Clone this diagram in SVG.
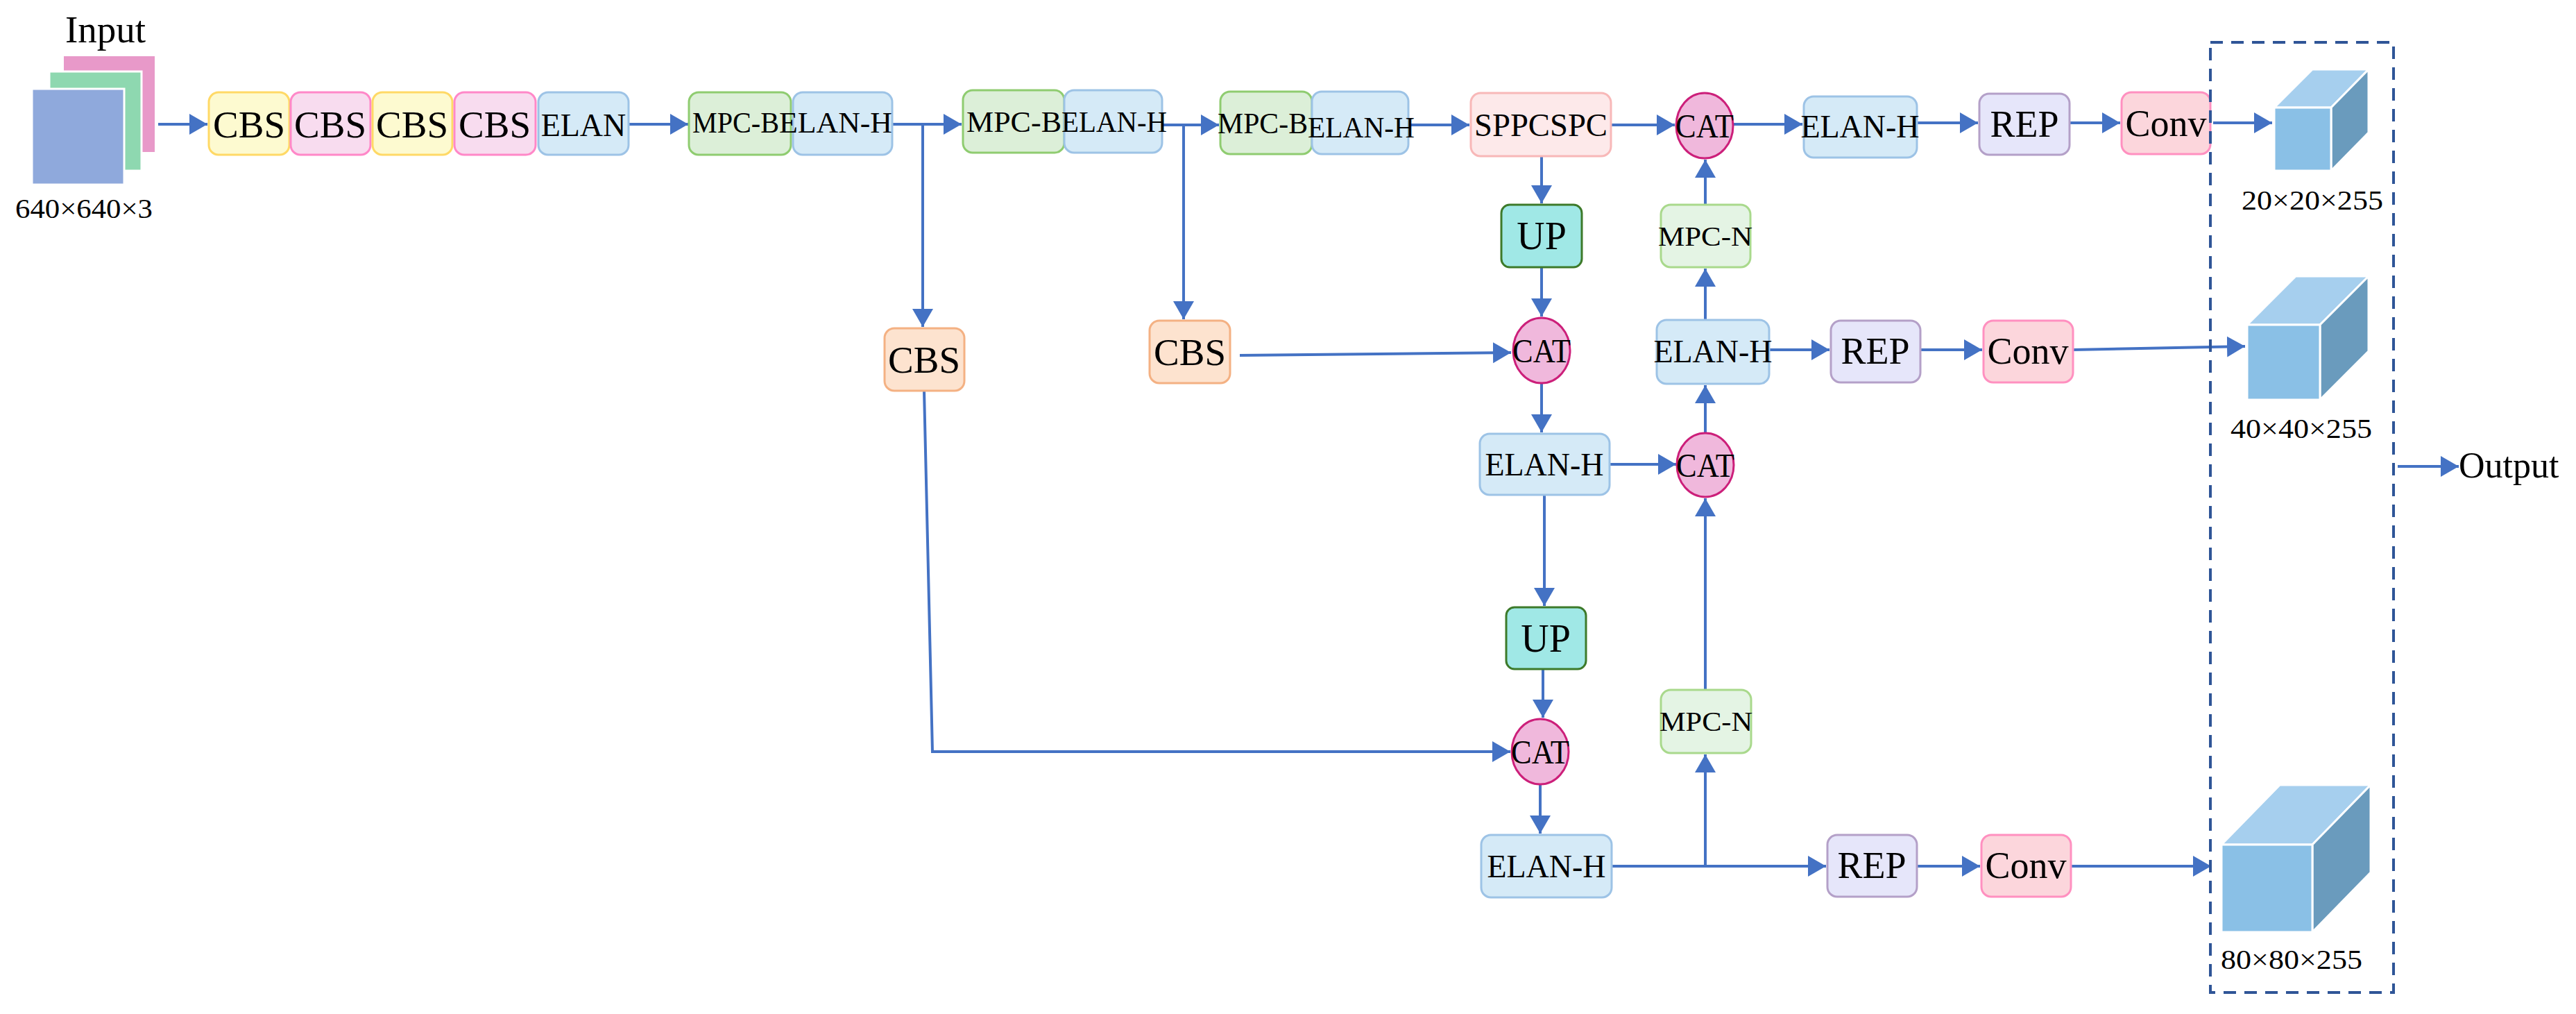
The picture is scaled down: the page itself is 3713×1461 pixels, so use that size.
<svg xmlns="http://www.w3.org/2000/svg" width="3713" height="1461" viewBox="0 0 3713 1461">
<style>
text{font-family:"Liberation Serif","Times New Roman",serif;fill:#000}
.c{text-anchor:middle}
.ln{fill:none;stroke:#4472c4;stroke-width:4}
.a{marker-end:url(#ah)}
.b{stroke-width:3}
.cbsy{fill:#fdfad0;stroke:#ffd966}
.cbsp{fill:#f8dcef;stroke:#ff88c8}
.elan{fill:#d5eaf7;stroke:#9dc3e6}
.mpcb{fill:#dcefd8;stroke:#8fcc70}
.cbso{fill:#fde3cf;stroke:#f4b183}
.spp{fill:#fde9ea;stroke:#f8b8b8}
.cat{fill:#f0b8dc;stroke:#cc1f7a}
.up{fill:#a0e8e6;stroke:#3d7a2a}
.mpcn{fill:#e4f4e4;stroke:#a9d98c}
.rep{fill:#e6e6fa;stroke:#b4a0c8}
.conv{fill:#fcd6dc;stroke:#ff90c0}
.cf{fill:#8ac0e6;stroke:#fff;stroke-width:3}
.ct{fill:#a6cfee;stroke:#fff;stroke-width:3}
.cs{fill:#6a9bbd;stroke:#fff;stroke-width:3}
</style>
<defs>
<marker id="ah" markerUnits="userSpaceOnUse" markerWidth="30" markerHeight="34" refX="26" refY="15" orient="auto">
<path d="M0,0 L26,15 L0,30 Z" fill="#4472c4"/>
</marker>
</defs>

<g id="connectors">
<line class="ln a" x1="228" y1="179" x2="299" y2="179"/>
<line class="ln a" x1="906" y1="179" x2="992" y2="179"/>
<line class="ln a" x1="1286" y1="179" x2="1386" y2="179"/>
<polyline class="ln a" points="1330,179 1330,471"/>
<line class="ln a" x1="1675" y1="180" x2="1757" y2="180"/>
<polyline class="ln a" points="1706,182 1706,460"/>
<line class="ln a" x1="2030" y1="180" x2="2118" y2="180"/>
<line class="ln a" x1="2322" y1="180" x2="2414" y2="180"/>
<line class="ln a" x1="2498" y1="179" x2="2598" y2="179"/>
<line class="ln a" x1="2763" y1="177" x2="2851" y2="177"/>
<line class="ln a" x1="2983" y1="177" x2="3056" y2="177"/>
<line class="ln a" x1="3190" y1="177" x2="3275" y2="177"/>
<line class="ln a" x1="2222" y1="225" x2="2222" y2="293"/>
<line class="ln a" x1="2222" y1="385" x2="2222" y2="456"/>
<line class="ln a" x1="1787" y1="512" x2="2178" y2="508"/>
<line class="ln a" x1="2222" y1="552" x2="2222" y2="623"/>
<line class="ln a" x1="2320" y1="669" x2="2416" y2="669"/>
<line class="ln a" x1="2458" y1="625" x2="2458" y2="555"/>
<line class="ln a" x1="2458" y1="461" x2="2458" y2="387"/>
<line class="ln a" x1="2458" y1="295" x2="2458" y2="230"/>
<line class="ln a" x1="2550" y1="504" x2="2637" y2="504"/>
<line class="ln a" x1="2768" y1="504" x2="2857" y2="504"/>
<line class="ln a" x1="2988" y1="504" x2="3236" y2="499"/>
<line class="ln a" x1="2226" y1="713" x2="2226" y2="873"/>
<line class="ln a" x1="2224" y1="964" x2="2224" y2="1034"/>
<polyline class="ln a" points="1332,563 1344,1083 2177,1083"/>
<line class="ln a" x1="2220" y1="1130" x2="2220" y2="1201"/>
<line class="ln a" x1="2323" y1="1248" x2="2632" y2="1248"/>
<line class="ln a" x1="2458" y1="1248" x2="2458" y2="1087"/>
<line class="ln a" x1="2458" y1="994" x2="2458" y2="718"/>
<line class="ln a" x1="2763" y1="1248" x2="2854" y2="1248"/>
<line class="ln a" x1="2985" y1="1248" x2="3187" y2="1248"/>
<line class="ln a" x1="3456" y1="672" x2="3544" y2="672"/>
</g>

<g id="input">
<text class="c" x="152" y="61" font-size="55">Input</text>
<rect x="92" y="81" width="131" height="138" fill="#e899c9"/>
<rect x="71" y="103" width="133" height="143" fill="#8ed8b0" stroke="#fff" stroke-width="3"/>
<rect x="46" y="128" width="133" height="138" fill="#8fa9dc" stroke="#fff" stroke-width="3"/>
<text class="c" x="121" y="314" font-size="40" textLength="198" lengthAdjust="spacingAndGlyphs">640×640×3</text>
</g>

<g id="cbs1"><rect class="cbsy b" x="301" y="133" width="116" height="90" rx="14"/><text class="c" x="359" y="198" font-size="55">CBS</text></g>
<g id="cbs2"><rect class="cbsp b" x="419" y="133" width="115" height="90" rx="14"/><text class="c" x="476" y="198" font-size="55">CBS</text></g>
<g id="cbs3"><rect class="cbsy b" x="537" y="133" width="115" height="90" rx="14"/><text class="c" x="594" y="198" font-size="55">CBS</text></g>
<g id="cbs4"><rect class="cbsp b" x="655" y="133" width="117" height="90" rx="14"/><text class="c" x="713" y="198" font-size="55">CBS</text></g>
<g id="elan1"><rect class="elan b" x="776" y="133" width="130" height="90" rx="14"/><text class="c" x="841" y="196" font-size="46">ELAN</text></g>

<g id="mpcb1"><rect class="mpcb b" x="993" y="133" width="147" height="90" rx="14"/><text x="998" y="191" font-size="42" textLength="125" lengthAdjust="spacingAndGlyphs">MPC-B</text></g>
<g id="elanh1"><rect class="elan b" x="1143" y="133" width="143" height="90" rx="14"/><text x="1123" y="191" font-size="42" textLength="163" lengthAdjust="spacingAndGlyphs">ELAN-H</text></g>

<g id="mpcb2"><rect class="mpcb b" x="1388" y="130" width="146" height="90" rx="14"/><text x="1393" y="190" font-size="42" textLength="137" lengthAdjust="spacingAndGlyphs">MPC-B</text></g>
<g id="elanh2"><rect class="elan b" x="1534" y="130" width="141" height="90" rx="14"/><text x="1530" y="190" font-size="42" textLength="152" lengthAdjust="spacingAndGlyphs">ELAN-H</text></g>

<g id="mpcb3"><rect class="mpcb b" x="1759" y="132" width="132" height="90" rx="14"/><text x="1755" y="192" font-size="42" textLength="130" lengthAdjust="spacingAndGlyphs">MPC-B</text></g>
<g id="elanh3"><rect class="elan b" x="1891" y="132" width="139" height="90" rx="14"/><text x="1885" y="198" font-size="42" textLength="154" lengthAdjust="spacingAndGlyphs">ELAN-H</text></g>

<g id="sppcspc"><rect class="spp b" x="2120" y="134" width="202" height="91" rx="14"/><text class="c" x="2221" y="196" font-size="47" textLength="192" lengthAdjust="spacingAndGlyphs">SPPCSPC</text></g>
<g id="cat1"><ellipse class="cat b" cx="2457" cy="181" rx="41" ry="47"/><text class="c" x="2457" y="198" font-size="48" textLength="84" lengthAdjust="spacingAndGlyphs">CAT</text></g>
<g id="elanh-top"><rect class="elan b" x="2600" y="139" width="163" height="88" rx="14"/><text class="c" x="2681" y="198" font-size="46">ELAN-H</text></g>
<g id="rep-top"><rect class="rep b" x="2853" y="135" width="130" height="88" rx="14"/><text class="c" x="2918" y="197" font-size="54">REP</text></g>
<g id="conv-top"><rect class="conv b" x="3058" y="133" width="128" height="89" rx="14"/><text class="c" x="3122" y="196" font-size="54">Conv</text></g>

<g id="up1"><rect class="up b" x="2164" y="295" width="116" height="90" rx="12"/><text class="c" x="2222" y="359" font-size="56">UP</text></g>
<g id="mpcn1"><rect class="mpcn b" x="2394" y="295" width="129" height="90" rx="14"/><text class="c" x="2458" y="354" font-size="40" textLength="136" lengthAdjust="spacingAndGlyphs">MPC-N</text></g>

<g id="cbs-a"><rect class="cbso b" x="1275" y="473" width="115" height="90" rx="14"/><text class="c" x="1332" y="537" font-size="55">CBS</text></g>
<g id="cbs-b"><rect class="cbso b" x="1657" y="462" width="116" height="90" rx="14"/><text class="c" x="1715" y="526" font-size="55">CBS</text></g>
<g id="cat2"><ellipse class="cat b" cx="2222" cy="505" rx="41" ry="47"/><text class="c" x="2222" y="522" font-size="48" textLength="84" lengthAdjust="spacingAndGlyphs">CAT</text></g>
<g id="elanh-mid"><rect class="elan b" x="2388" y="461" width="162" height="92" rx="14"/><text class="c" x="2469" y="522" font-size="46">ELAN-H</text></g>
<g id="rep-mid"><rect class="rep b" x="2639" y="462" width="129" height="89" rx="14"/><text class="c" x="2703" y="524" font-size="54">REP</text></g>
<g id="conv-mid"><rect class="conv b" x="2859" y="462" width="129" height="89" rx="14"/><text class="c" x="2923" y="524" font-size="54">Conv</text></g>

<g id="elanh-l"><rect class="elan b" x="2133" y="625" width="187" height="88" rx="14"/><text class="c" x="2226" y="685" font-size="46">ELAN-H</text></g>
<g id="cat3"><ellipse class="cat b" cx="2458" cy="670" rx="41" ry="46"/><text class="c" x="2458" y="687" font-size="48" textLength="84" lengthAdjust="spacingAndGlyphs">CAT</text></g>
<g id="up2"><rect class="up b" x="2171" y="875" width="115" height="89" rx="12"/><text class="c" x="2228" y="939" font-size="56">UP</text></g>
<g id="mpcn2"><rect class="mpcn b" x="2394" y="994" width="130" height="91" rx="14"/><text class="c" x="2459" y="1053" font-size="40" textLength="134" lengthAdjust="spacingAndGlyphs">MPC-N</text></g>
<g id="cat4"><ellipse class="cat b" cx="2220" cy="1083" rx="41" ry="47"/><text class="c" x="2220" y="1100" font-size="48" textLength="84" lengthAdjust="spacingAndGlyphs">CAT</text></g>
<g id="elanh-bot"><rect class="elan b" x="2135" y="1203" width="188" height="90" rx="14"/><text class="c" x="2229" y="1264" font-size="46">ELAN-H</text></g>
<g id="rep-bot"><rect class="rep b" x="2634" y="1203" width="129" height="89" rx="14"/><text class="c" x="2698" y="1265" font-size="54">REP</text></g>
<g id="conv-bot"><rect class="conv b" x="2856" y="1203" width="129" height="89" rx="14"/><text class="c" x="2920" y="1265" font-size="54">Conv</text></g>

<g id="output-box">
<rect x="3186" y="61" width="264" height="1369" fill="none" stroke="#2f5597" stroke-width="4" stroke-dasharray="18,12"/>
<g id="cube1">
<polygon class="ct" points="3278,155 3333,100 3414,100 3360,155"/>
<polygon class="cs" points="3360,155 3414,100 3414,191 3360,246"/>
<rect class="cf" x="3278" y="155" width="82" height="91"/>
<text class="c" x="3333" y="302" font-size="40" textLength="204" lengthAdjust="spacingAndGlyphs">20×20×255</text>
</g>
<g id="cube2">
<polygon class="ct" points="3239,468 3309,398 3414,398 3344,468"/>
<polygon class="cs" points="3344,468 3414,398 3414,506 3344,576"/>
<rect class="cf" x="3239" y="468" width="105" height="108"/>
<text class="c" x="3317" y="631" font-size="40" textLength="204" lengthAdjust="spacingAndGlyphs">40×40×255</text>
</g>
<g id="cube3">
<polygon class="ct" points="3202,1217 3286,1131 3417,1131 3333,1217"/>
<polygon class="cs" points="3333,1217 3417,1131 3417,1257 3333,1343"/>
<rect class="cf" x="3202" y="1217" width="131" height="126"/>
<text class="c" x="3303" y="1396" font-size="40" textLength="204" lengthAdjust="spacingAndGlyphs">80×80×255</text>
</g>
</g>
<g id="output"><text x="3544" y="688" font-size="52">Output</text></g>
</svg>
